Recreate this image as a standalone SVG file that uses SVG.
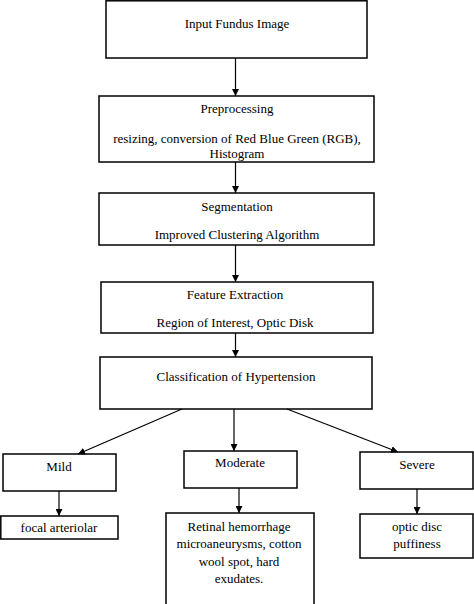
<svg xmlns="http://www.w3.org/2000/svg" width="474" height="604" viewBox="0 0 474 604">
<defs>
<marker id="ah" viewBox="0 0 10 10" refX="10" refY="5" markerWidth="7" markerHeight="7" markerUnits="userSpaceOnUse" orient="auto">
<path d="M0,0 L10,5 L0,10 z" fill="#000"/>
</marker>
<style>
.box{fill:#fff;stroke:#000;stroke-width:1.5}
.t{font-family:"Liberation Serif","Times New Roman",serif;font-size:13px;fill:#000;text-anchor:middle}
.c{stroke:#000;stroke-width:1.2;fill:none;marker-end:url(#ah)}
</style>
</defs>
<rect width="474" height="604" fill="#fff"/>
<g id="input"><rect class="box" x="106" y="0.8" width="261" height="57.2"/><text class="t" x="237" y="28">Input Fundus Image</text></g>
<g id="preprocessing"><rect class="box" x="99" y="96" width="275" height="66"/><text class="t" x="237" y="113">Preprocessing</text><text class="t" x="237" y="143">resizing, conversion of Red Blue Green (RGB),</text><text class="t" x="237" y="158">Histogram</text></g>
<g id="segmentation"><rect class="box" x="99" y="193" width="275" height="52"/><text class="t" x="237" y="211">Segmentation</text><text class="t" x="237" y="239">Improved Clustering Algorithm</text></g>
<g id="feature"><rect class="box" x="101" y="282" width="272" height="51"/><text class="t" x="235" y="299">Feature Extraction</text><text class="t" x="235" y="327">Region of Interest, Optic Disk</text></g>
<g id="classification"><rect class="box" x="100" y="357" width="272" height="52"/><text class="t" x="236" y="381">Classification of Hypertension</text></g>
<g id="mild"><rect class="box" x="3" y="454" width="113" height="37"/><text class="t" x="59" y="471">Mild</text></g>
<g id="moderate"><rect class="box" x="184" y="451" width="113" height="37"/><text class="t" x="240" y="467">Moderate</text></g>
<g id="severe"><rect class="box" x="360" y="452" width="113" height="37"/><text class="t" x="417" y="469">Severe</text></g>
<g id="focal"><rect class="box" x="0.8" y="516" width="117.2" height="23"/><text class="t" x="59" y="532">focal arteriolar</text></g>
<g id="retinal"><rect class="box" x="166" y="513" width="148" height="95"/><text class="t" x="239" y="531">Retinal hemorrhage</text><text class="t" x="239" y="548">microaneurysms, cotton</text><text class="t" x="239" y="566">wool spot, hard</text><text class="t" x="239" y="583">exudates.</text></g>
<g id="optic"><rect class="box" x="360" y="514" width="113" height="44"/><text class="t" x="417" y="531">optic disc</text><text class="t" x="417" y="548">puffiness</text></g>
<g id="connectors">
<line class="c" x1="235.5" y1="58" x2="235.5" y2="96"/>
<line class="c" x1="235.5" y1="162" x2="235.5" y2="193"/>
<line class="c" x1="235.5" y1="245" x2="235.5" y2="282"/>
<line class="c" x1="235.5" y1="333" x2="235.5" y2="357"/>
<line class="c" x1="182" y1="409" x2="78" y2="454"/>
<line class="c" x1="234" y1="409" x2="234" y2="451"/>
<line class="c" x1="287" y1="409" x2="398" y2="452"/>
<line class="c" x1="59" y1="491" x2="59" y2="516"/>
<line class="c" x1="239" y1="488" x2="239" y2="513"/>
<line class="c" x1="417" y1="489" x2="417" y2="514"/>
</g>
</svg>
